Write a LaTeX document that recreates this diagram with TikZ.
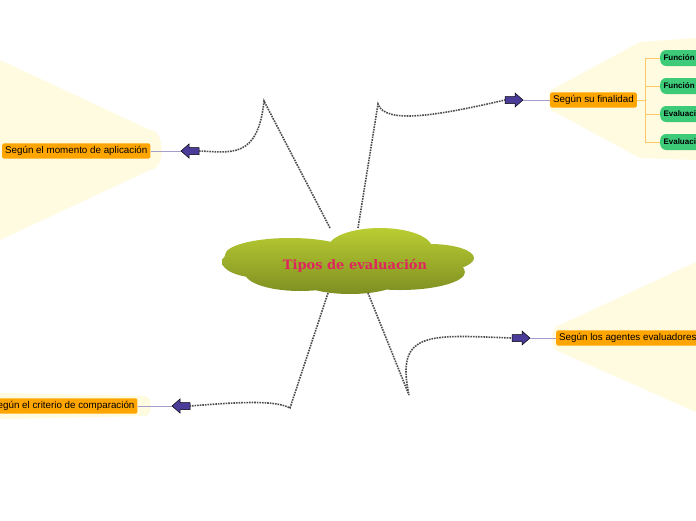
\documentclass[tikz,border=0pt]{standalone}
\usepackage{fontspec}
\setmainfont{Liberation Sans}
\newfontfamily\titlefont{DejaVu Serif}
\definecolor{halo}{HTML}{FFFBE0}
\definecolor{boxc}{HTML}{FFA500}
\definecolor{arr}{HTML}{4B3C9A}
\definecolor{pill}{HTML}{3DCB7A}
\definecolor{ctop}{HTML}{BACD32}
\definecolor{cbot}{HTML}{7E8E22}
\definecolor{ttl}{HTML}{E0245E}
\begin{document}
\begin{tikzpicture}[x=1pt,y=-1pt,
  branch/.style={fill=boxc,rounded corners=2pt,inner sep=3pt,font=\fontsize{9.8}{11}\selectfont},
  pillbox/.style={fill=pill,rounded corners=6pt,minimum width=70pt,minimum height=16pt,anchor=west,font=\bfseries\fontsize{8}{9}\selectfont,align=left},
  blk/.style={fill=arr,draw=black,line width=0.5pt},
  con/.style={densely dotted,line width=1.6pt,draw=black!70},
  thin/.style={draw=arr!50,line width=0.5pt}]
\clip (0,0) rectangle (696,520);
\fill[white] (0,0) rectangle (696,520);
% halos
\fill[halo] (0,60) -- (150,130) to[out=0,in=0] (150,170) -- (0,240) -- cycle;
\fill[halo] (555,88) -- (640,42) -- (696,38) -- (696,160) -- (640,158) -- (555,112) to[out=180,in=180] cycle;
\fill[halo] (560,325) -- (696,262) -- (696,412) -- (560,352) to[out=180,in=180] cycle;
\fill[halo] (0,393) -- (145,396) to[out=0,in=0] (145,416) -- (0,419) -- cycle;
% cloud
\shade[top color=ctop, bottom color=cbot]
 (348,262) ellipse (120 and 14)
 (290,255) ellipse (65 and 17) (380,248) ellipse (52 and 20)
 (300,273) ellipse (55 and 18) (400,272) ellipse (65 and 18)
 (350,280) ellipse (50 and 14) (430,258) ellipse (44 and 14) (262,262) ellipse (40 and 16);
\node[font=\titlefont\bfseries\fontsize{13}{15}\selectfont,text=ttl] (c) at (355,266) {Tipos de evaluación};
% branches
\node[branch,anchor=west] (b1) at (2,151) {Según el momento de aplicación};
\node[branch,anchor=west] (b2) at (550,100) {Según su finalidad};
\node[branch,anchor=west] (b3) at (556,338) {Según los agentes evaluadores};
\node[branch,anchor=west] (b4) at (-12,406) {Según el criterio de comparación};
% block arrows
\foreach \n/\x/\y/\d in {a1/190/151/-1,a2/514/100/1,a3/521/338/1,a4/181/406/-1}{
  \draw[blk] (\x-9*\d,\y-3.5) -- (\x+1*\d,\y-3.5) -- (\x+1*\d,\y-7) -- (\x+9*\d,\y) -- (\x+1*\d,\y+7) -- (\x+1*\d,\y+3.5) -- (\x-9*\d,\y+3.5) -- cycle;
  \coordinate (\n tip) at (\x+9*\d,\y);
  \coordinate (\n tail) at (\x-9*\d,\y);
}
\draw[thin] (a1tip) -- (b1); \draw[thin] (a2tip) -- (b2); \draw[thin] (a3tip) -- (b3); \draw[thin] (a4tip) -- (b4);
\coordinate (p1) at (264,101); \coordinate (p2) at (378,104);
\coordinate (p3) at (409,395); \coordinate (p4) at (290,408);
\draw[con] (330,228) -- (p1) .. controls (258,160) and (230,152) .. (a1tail);
\draw[con] (358,228) -- (p2) .. controls (385,125) and (440,115) .. (a2tail);
\draw[con] (368,293) -- (p3) .. controls (395,330) and (430,335) .. (a3tail);
\draw[con] (328,293) -- (p4) .. controls (275,400) and (240,402) .. (a4tail);
% pills
\foreach \y/\t [count=\i] in {58/Función diagnóstica,86/Función formativa,114/Evaluación sumativa,142/Evaluación continua}{
  \node[pillbox] (g\i) at (660,\y) {\t};
  \draw[boxc!60,line width=0.6pt] (b2.east) -- ++(8,0) |- (g\i.west);
}
\end{tikzpicture}
\end{document}
